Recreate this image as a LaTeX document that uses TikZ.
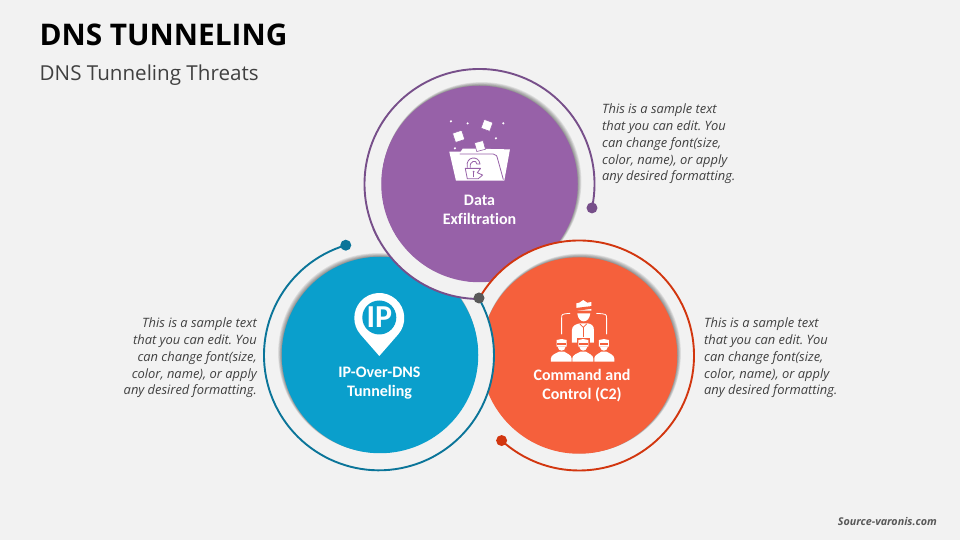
\documentclass[tikz,border=0pt]{standalone}
\usepackage{fontspec}
\setmainfont{Open Sans}
\newfontfamily\labelfont[Ligatures=NoCommon]{Carlito}
\usetikzlibrary{calc}
\definecolor{bgc}{HTML}{F2F2F2}
\definecolor{purpleF}{HTML}{9761A8}
\definecolor{purpleR}{HTML}{774F8A}
\definecolor{blueF}{HTML}{0A9FCC}
\definecolor{blueR}{HTML}{0B7599}
\definecolor{orangeF}{HTML}{F5603C}
\definecolor{orangeR}{HTML}{D2360F}
\definecolor{hubc}{HTML}{595959}
\definecolor{txt}{HTML}{404040}
\frenchspacing
\tikzset{
  x=1pt,y=1pt,
  disc/.style={circle,inner sep=0pt,minimum size=196.5pt,fill=#1},
  ringline/.style={draw=#1,line width=1.9pt,line cap=round},
  enddot/.style={circle,inner sep=0pt,minimum size=11pt,fill=#1},
  bodytxt/.style={text=txt,font=\fontsize{12.9}{16.75}\selectfont\itshape,inner sep=0pt},
  leftbody/.style={bodytxt,align=left,anchor=north west},
  rightbody/.style={bodytxt,align=right,anchor=north east},
  disclabel/.style={text=white,font=\labelfont\bfseries\fontsize{16}{19}\selectfont,align=center,inner sep=0pt},
  icon/.style={fill=white,draw=none},
  iconcut/.style={draw=#1,line width=.8pt,line cap=round,line join=round}
}
\newcommand{\softshadow}[4]{%
  \foreach \i in {0,...,5}{
    \fill[black,opacity=.08] ($(#1,#2)+({#3*(\i+1)/6},{#4*(\i+1)/6})$) circle[radius={98.2+\i*.3}];
  }}
\begin{document}
\begin{tikzpicture}
\useasboundingbox (0,0) rectangle (960,540);
\fill[bgc] (0,0) rectangle (960,540);
\coordinate (pc) at (479.5,356);
\coordinate (bc) at (380,185);
\coordinate (br) at (379,184.7);
\coordinate (oc) at (579,184.5);

\node[anchor=west,inner sep=0pt,font=\fontsize{29.8}{36}\selectfont\bfseries,text=black] (title) at (39.3,505.5) {DNS TUNNELING};
\node[anchor=west,inner sep=0pt,font=\fontsize{20.6}{24}\selectfont,text=txt] (subtitle) at (39.5,465.2) {DNS Tunneling Threats};

% purple group
\softshadow{479.5}{356}{2.2}{2.2}
\node[disc=purpleF] (pdisc) at (pc) {};
\draw[ringline=purpleR] (pc) ++(-12:115) arc[start angle=-12,end angle=270,radius=115];

% orange group
\fill[bgc] (oc) circle[radius=115];
\softshadow{579}{184.5}{2.2}{2.2}
\node[disc=orangeF] (odisc) at (oc) {};
\draw[ringline=orangeR] (oc) ++(150:115) arc[start angle=150,end angle=-132.3,radius=115];

% blue group
\fill[bgc] (br) circle[radius=115];
\softshadow{380}{185}{-2.2}{2.2}
\node[disc=blueF] (bdisc) at (bc) {};
\draw[ringline=blueR] (br) ++(106.8:115) arc[start angle=106.8,end angle=389.7,radius=115];

% purple again over blue
\begin{scope}
\clip (300,235) rectangle (479.5,310);
\fill[bgc,even odd rule] (pc) circle[radius=115] (pc) circle[radius=98.25];
\fill[purpleF] (pc) circle[radius=98.25];
\draw[ringline=purpleR] (pc) circle[radius=115];
\end{scope}

% dots
\node[enddot=purpleR] (pend) at ($(pc)+(-12:115)$) {};
\node[enddot=blueR] (bend) at ($(br)+(106.8:115)$) {};
\node[enddot=orangeR] (oend) at ($(oc)+(-132.3:115)$) {};
\node[enddot=hubc] (hub) at (479,242) {};

% labels
\node[disclabel] (plabel) at (479.5,330.5) {Data\\Exfiltration};
\node[disclabel] (blabel) at (379.5,157) {IP-Over-DNS\\Tunneling};
\node[disclabel] (olabel) at (582,154.5) {Command and\\Control (C2)};

% body texts
\node[leftbody] (ptext) at (602,436) {This is a sample text\\that you can edit. You\\can change font(size,\\color, name), or apply\\any desired formatting.};
\node[leftbody] (otext) at (704,222) {This is a sample text\\that you can edit. You\\can change font(size,\\color, name), or apply\\any desired formatting.};
\node[rightbody] (btext) at (257,222) {This is a sample text\\that you can edit. You\\can change font(size,\\color, name), or apply\\any desired formatting.};
\node[anchor=east,inner sep=0pt,text=hubc,font=\fontsize{10.75}{12}\selectfont\bfseries\itshape] (source) at (937,19) {Source-varonis.com};

% pin icon
\fill[icon] (379.3,184) -- ($(379.3,222)+(-41.1:25)$) arc[start angle=-41.1,end angle=221.1,radius=25] -- cycle;
\fill[blueF] (379.3,222.5) circle[radius=17];
\node[inner sep=0pt,text=white,font=\labelfont\bfseries\fontsize{32}{32}\selectfont] (iptext) at (379.3,222.5) {IP};

% folder icon  (u = 1/3 px, origin 360,60 of the crop)
\begin{scope}[x=.3333pt,y=-.3333pt,shift={(1080,-1440)}]
\fill[icon] (268,275) -- (302,275) -- (308,266) -- (345,266) -- (450,268) -- (433,362) -- (288,362) -- cycle;
\draw[iconcut=purpleF] (300,282) -- (400,282) .. controls (410,285) .. (414,300) -- (430,358);
\draw[iconcut=purpleF] (322,322) .. controls (315,288) and (358,285) .. (360,312);
\draw[iconcut=purpleF] (331,322) .. controls (328,302) and (350,298) .. (351,312) -- (360,312);
\draw[iconcut=purpleF] (316,325) -- (362,325) -- (352,338) -- (368,345) -- (355,356) -- (322,356) -- cycle;
\draw[iconcut=purpleF] (341,335) -- (341,350);
\fill[purpleF] (341,335) circle[radius=3];
\foreach \px/\py/\ang/\sz in {296/229/18/29,381/196/-20/28,360/258/15/27}{
  \fill[icon,draw=purpleF,line width=.6pt,rotate around={\ang:(\px,\py)}] (\px-\sz/2,\py-\sz/2) rectangle (\px+\sz/2,\py+\sz/2);
}
\foreach \px/\py in {273/184,323/190,430/190,408/235,285/265}{
  \fill[icon] (\px,\py) circle[radius=3.5];
}
\end{scope}

% people icon (origin 530,290, crop scale 3)
\begin{scope}[x=.3333pt,y=-.3333pt,shift={(1590,-750)}]
\draw[white,line width=.8pt,line cap=round] (95,132) -- (95,85) .. controls (95,72) .. (120,70);
\draw[white,line width=.8pt,line cap=round] (230,132) -- (230,85) .. controls (230,72) .. (200,70);
% leader
\fill[icon] (139,40) -- (148,38) -- (160,30) -- (172,38) -- (184,36) -- (184,62) -- (139,62) -- cycle;
\fill[icon] (142,70) .. controls (145,102) and (178,102) .. (181,70) -- cycle;
\fill[orangeF] (137,54) -- (186,48) -- (186,56) -- (137,63) -- cycle;
\fill[icon] (126,158) -- (126,120) .. controls (126,106) and (140,102) .. (150,100) -- (174,100) .. controls (184,102) and (192,106) .. (192,120) -- (192,158) -- cycle;
\draw[iconcut=orangeF] (150,102) -- (160,112) -- (170,102);
\draw[iconcut=orangeF] (160,112) -- (160,140);
% team
\foreach \hx/\bl/\br in {95/63/125,160/127/190,222/193/253}{
  \fill[orangeF] (\hx-19,143) rectangle (\hx+19,215);
  \fill[icon] (\hx-15,150) -- (\hx,147) -- (\hx+15,150) -- (\hx+15,170) -- (\hx-15,170) -- cycle;
  \fill[icon] (\hx-12,170) .. controls (\hx-10,186) and (\hx+10,186) .. (\hx+12,170) -- cycle;
  \fill[orangeF] (\hx-13,160) rectangle (\hx+13,165);
  \fill[icon] (\bl,215) -- (\bl,205) .. controls (\bl,195) and (\bl+15,190) .. (\hx-8,185) -- (\hx+8,185) .. controls (\br-15,190) and (\br,195) .. (\br,205) -- (\br,215) -- cycle;
}
\end{scope}
\end{tikzpicture}
\end{document}
